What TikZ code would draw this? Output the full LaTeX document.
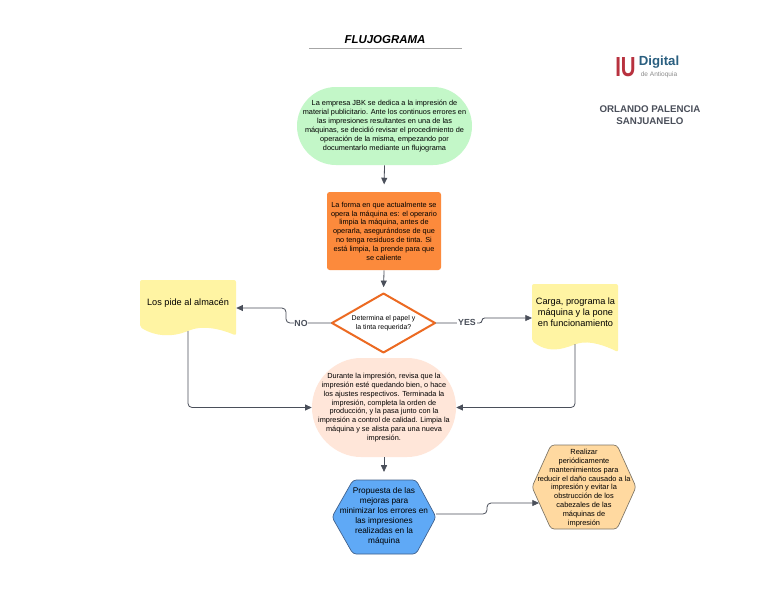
\documentclass[tikz,border=0pt]{standalone}
\usepackage{fontspec}
\setmainfont{Liberation Sans}
\usetikzlibrary{arrows.meta}
\definecolor{cgreen}{HTML}{C3F7C8}
\definecolor{corange}{HTML}{FC8A3C}
\definecolor{cdiam}{HTML}{EC6A22}
\definecolor{cyel}{HTML}{FFF4A3}
\definecolor{cpeach}{HTML}{FFE6D9}
\definecolor{cblue}{HTML}{5FA9F6}
\definecolor{cblueb}{HTML}{3F5F8A}
\definecolor{ctan}{HTML}{FFD9A0}
\definecolor{ctanb}{HTML}{7D7566}
\definecolor{cline}{HTML}{4A4F5A}
\definecolor{clogored}{HTML}{B8323F}
\definecolor{clogoblue}{HTML}{2A5F80}
\tikzset{
  boxarea/.style={inner sep=0pt,align=center,text=black,font=\fontsize{5.5}{6.6}\selectfont},
  conn/.style={draw=cline,line width=0.6pt,rounded corners=3pt,-{Triangle[length=5pt,width=4.5pt]}},
  lbl/.style={fill=white,inner sep=0.6pt,text=cline,font=\bfseries\fontsize{6.6}{8}\selectfont},
}
\begin{document}
\begin{tikzpicture}[x=0.75pt,y=-0.75pt]
\useasboundingbox (0,0) rectangle (768,594);
\fill[white] (0,0) rectangle (768,594);
% title
\node[font=\bfseries\itshape\fontsize{8.6}{10}\selectfont,inner sep=0pt] (title) at (385,40) {FLUJOGRAMA};
\coordinate (ruleL) at (309,48);
\coordinate (ruleR) at (462,48);
\draw[draw=black!35,line width=0.7pt] (ruleL) -- (ruleR);
% logo
\node[inner sep=0pt,text=clogored,font=\bfseries\fontsize{18}{20}\selectfont,xscale=0.85,yscale=1.15,transform shape] (logoiu) at (625.5,67) {IU};
\node[inner sep=0pt,text=clogoblue,font=\bfseries\fontsize{9.9}{10.5}\selectfont] (logod) at (659,62) {Digital};
\node[inner sep=0pt,text=black!45,font=\fontsize{4.9}{5.5}\selectfont] (logoa) at (659,75) {de Antioquia};
\node[inner sep=0pt,align=center,text=cline,font=\bfseries\fontsize{7.3}{8.9}\selectfont] (author) at (650,115.5) {ORLANDO PALENCIA\\SANJUANELO};
% shapes
\fill[cgreen] (336,87) -- (433,87) .. controls (454.5,87) and (472,104.5) .. (472,126) .. controls (472,147.5) and (454.5,165) .. (433,165) -- (336,165) .. controls (314.5,165) and (297,147.5) .. (297,126) .. controls (297,104.5) and (314.5,87) .. (336,87) -- cycle;
\fill[corange,rounded corners=2pt] (327,192) rectangle (441,270);
\draw[cdiam,fill=white,line width=1.5pt,line join=round] (383.5,293.5) -- (435,323) -- (383.5,352.5) -- (332,323) -- cycle;
\fill[cyel,rounded corners=1.5pt] (140,280) -- (236,280) -- (236,335.5) .. controls (216,327) and (200,326) .. (188,331) .. controls (172,337) and (156,337) .. (140,327) -- cycle;
\fill[cyel,rounded corners=1.5pt] (532,284) -- (618,284) -- (618,352) .. controls (606,346) and (590,340) .. (576,344) .. controls (560,350) and (548,353) .. (532,341) -- cycle;
\fill[cpeach] (361,358) -- (407,358) .. controls (433,358) and (456,380) .. (456,407.5) .. controls (456,435) and (433,457) .. (407,457) -- (361,457) .. controls (335,457) and (312,435) .. (312,407.5) .. controls (312,380) and (335,358) .. (361,358) -- cycle;
\draw[cblueb,fill=cblue,line width=0.5pt,rounded corners=2.5pt] (353,480) -- (416,480) -- (436,517) -- (416,554) -- (353,554) -- (332,517) -- cycle;
\draw[ctanb,fill=ctan,line width=0.5pt,rounded corners=2.5pt] (551,445) -- (617,445) -- (636,487) -- (617,529) -- (551,529) -- (532,487) -- cycle;
% text nodes (same extents as the shapes)
\node[boxarea,minimum width=131.25pt,minimum height=58.5pt,font=\fontsize{5.5}{6.75}\selectfont] (green) at (384.5,126)
 {La empresa JBK se dedica a la impresión de\\material publicitario. Ante los continuos errores en\\las impresiones resultantes en una de las\\máquinas, se decidió revisar el procedimiento de\\operación de la misma, empezando por\\documentarlo mediante un flujograma};
\node[boxarea,minimum width=85.5pt,minimum height=58.5pt] (orange) at (384,231)
 {La forma en que actualmente se\\opera la máquina es: el operario\\limpia la máquina, antes de\\operarla, asegurándose de que\\no tenga residuos de tinta. Si\\está limpia, la prende para que\\se caliente};
\node[boxarea,minimum width=77.25pt,minimum height=44.25pt,font=\fontsize{5.2}{6.6}\selectfont] (diam) at (383.5,323)
 {Determina el papel y\\la tinta requerida?};
\node[boxarea,minimum width=72pt,minimum height=42pt,anchor=north,font=\fontsize{6.9}{8}\selectfont] (docL) at (188,280) {};
\node[boxarea,font=\fontsize{6.9}{8}\selectfont] (docLt) at (188,303) {Los pide al almacén};
\node[boxarea,minimum width=64.5pt,minimum height=48pt,anchor=north,font=\fontsize{6.9}{8.2}\selectfont] (docR) at (575,284) {};
\node[boxarea,font=\fontsize{6.9}{8.2}\selectfont] (docRt) at (575.5,312) {Carga, programa la\\máquina y la pone\\en funcionamiento};
\node[boxarea,minimum width=108pt,minimum height=74.25pt,font=\fontsize{5.5}{6.65}\selectfont] (peach) at (384,407.5)
 {Durante la impresión, revisa que la\\impresión esté quedando bien, o hace\\los ajustes respectivos. Terminada la\\impresión, completa la orden de\\producción, y la pasa junto con la\\impresión a control de calidad. Limpia la\\máquina y se alista para una nueva\\impresión.};
\node[boxarea,minimum width=78pt,minimum height=55.5pt,font=\fontsize{6.2}{7.5}\selectfont] (blue) at (384,516.5)
 {Propuesta de las\\mejoras para\\minimizar los errores en\\las impresiones\\realizadas en la\\máquina};
\node[boxarea,minimum width=78pt,minimum height=63pt,font=\fontsize{5.55}{6.67}\selectfont] (tan) at (584,488)
 {Realizar\\periódicamente\\mantenimientos para\\reducir el daño causado a la\\impresión y evitar la\\obstrucción de los\\cabezales de las\\máquinas de\\impresión};
% connectors
\draw[conn,shorten >=5.5pt] (green.south) -- (orange.north);
\draw[conn,shorten >=4.5pt] (orange.south) -- (diam.north);
\coordinate (noA) at (286,323);
\coordinate (noB) at (286,308);
\coordinate (noC) at (docL.east |- noB);
\draw[conn] (diam.west) -- (noA) -- (noB) -- (noC);
\node[lbl] (no) at (301,323) {NO};
\coordinate (yesA) at (482,323);
\coordinate (yesB) at (482,318);
\coordinate (yesC) at (532,318);
\draw[conn,rounded corners=2pt] (diam.east) -- (yesA) -- (yesB) -- (yesC);
\node[lbl] (yes) at (467,322.5) {YES};
\coordinate (lDown) at (188,331);
\draw[conn] (lDown) |- (peach.west);
\coordinate (rDown) at (575,344);
\draw[conn] (rDown) |- (peach.east);
\draw[conn,shorten >=5.5pt] (peach.south) -- (blue.north);
\coordinate (bA) at (436,514);
\coordinate (bB) at (487,514);
\coordinate (bC) at (487,503);
\coordinate (bD) at (539,503);
\draw[conn] (bA) -- (bB) -- (bC) -- (bD);
\end{tikzpicture}
\end{document}
